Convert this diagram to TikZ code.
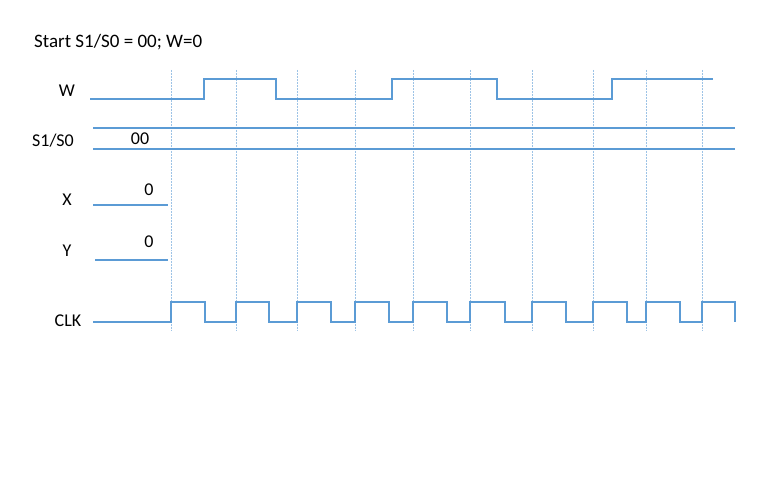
\documentclass[tikz,border=0pt]{standalone}
\usepackage{fontspec}
\setmainfont{Carlito}
\begin{document}
\begin{tikzpicture}[x=1pt,y=-1pt,
  sig/.style={draw=wb,line width=1.5pt},
  grid/.style={draw=wb!60,densely dotted,line width=0.5pt},
  lbl/.style={font=\fontsize{18}{20}\selectfont,inner sep=0pt}]
\definecolor{wb}{RGB}{91,155,213}
\useasboundingbox (0,0) rectangle (768,478);
\node[lbl,anchor=west,font=\fontsize{19}{21}\selectfont] (title) at (34,42) {Start S1/S0 = 00; W=0};
\node[lbl] (lw) at (67,91) {W};
\node[lbl] (ls) at (53,141) {S1/S0};
\node[lbl] (lx) at (67,200) {X};
\node[lbl] (ly) at (67,251) {Y};
\node[lbl] (lc) at (68,321) {CLK};
\node[lbl] (v00) at (140,139) {00};
\node[lbl] (vx) at (149,190) {0};
\node[lbl] (vy) at (149,242) {0};
\foreach \x in {171,236,297,355,413,470,532,593,646,702}
  \draw[grid] (\x,70) -- (\x,330);
\draw[sig] (90,99) -- (204,99) -- (204,79) -- (276,79) -- (276,99) -- (392,99) -- (392,79) -- (497,79) -- (497,99) -- (612,99) -- (612,79) -- (713,79);
\draw[sig] (93,128) -- (735,128);
\draw[sig] (93,149) -- (735,149);
\draw[sig] (93,205) -- (168,205);
\draw[sig] (95,260) -- (168,260);
\draw[sig] (93,322) -- (171,322) -- (171,302) -- (205,302) -- (205,322)
  -- (236,322) -- (236,302) -- (269,302) -- (269,322)
  -- (297,322) -- (297,302) -- (331,302) -- (331,322)
  -- (355,322) -- (355,302) -- (389,302) -- (389,322)
  -- (413,322) -- (413,302) -- (447,302) -- (447,322)
  -- (470,322) -- (470,302) -- (505,302) -- (505,322)
  -- (532,322) -- (532,302) -- (566,302) -- (566,322)
  -- (593,322) -- (593,302) -- (627,302) -- (627,322)
  -- (646,322) -- (646,302) -- (680,302) -- (680,322)
  -- (702,322) -- (702,302) -- (735,302) -- (735,322);
\end{tikzpicture}
\end{document}
